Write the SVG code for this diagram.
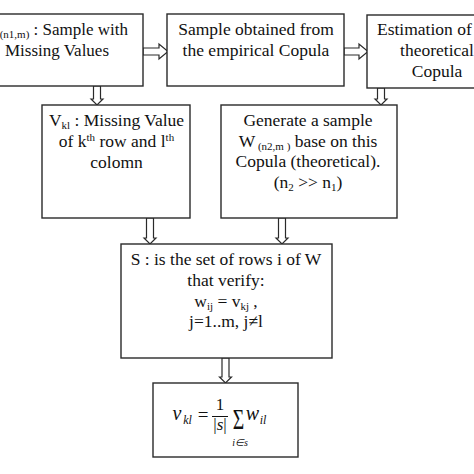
<svg xmlns="http://www.w3.org/2000/svg" width="474" height="474" viewBox="0 0 474 474">
<style>
.box{fill:#fff;stroke:#2a2a2a;stroke-width:1.4}
.arr{fill:#fff;stroke:#2a2a2a;stroke-width:1.2;stroke-linejoin:miter}
text{font-family:"Liberation Serif","Times New Roman",serif;font-size:17.5px;fill:#111;text-anchor:middle}
.sm{font-size:11px}
.m{font-style:italic}
</style>
<rect width="474" height="474" fill="#fff"/>
<g id="connectors">
<polygon class="arr" points="143,48 159,48 159,44 168,51.5 159,59 159,55 143,55"/>
<polygon class="arr" points="344,48 359,48 359,44 368,51.5 359,59 359,55 344,55"/>
<polygon class="arr" points="93.5,86 100.5,86 100.5,99 103,99 97,105 91,99 93.5,99"/>
<polygon class="arr" points="377.5,88 384.5,88 384.5,99 387,99 381,105 375,99 377.5,99"/>
<polygon class="arr" points="146.5,218 153.5,218 153.5,238 156,238 150,244 144,238 146.5,238"/>
<polygon class="arr" points="278.5,218 285.5,218 285.5,238 288,238 282,244 276,238 278.5,238"/>
<polygon class="arr" points="222,358 229,358 229,377 231.5,377 225.5,383 219.5,377 222,377"/>
</g>
<g id="node-sample-missing">
<rect class="box" x="-30" y="14" width="173" height="72"/>
<text x="128" y="35" style="text-anchor:end;font-size:17px"><tspan class="sm" dy="3">(n1,m)</tspan><tspan dy="-3"> : Sample with</tspan></text>
<text x="57" y="56" style="font-size:17px">Missing Values</text>
</g>
<g id="node-empirical">
<rect class="box" x="167" y="14" width="177" height="72"/>
<text x="256" y="35">Sample obtained from</text>
<text x="256" y="56">the empirical Copula</text>
</g>
<g id="node-estimation">
<rect class="box" x="367" y="15" width="140" height="73"/>
<text x="377" y="35" style="text-anchor:start">Estimation of</text>
<text x="437" y="56">theoretical</text>
<text x="437" y="77">Copula</text>
</g>
<g id="node-vkl">
<rect class="box" x="42" y="105" width="148" height="113"/>
<text x="116.5" y="126">V<tspan class="sm" dy="3">kl</tspan><tspan dy="-3"> : Missing Value</tspan></text>
<text x="116.5" y="147">of k<tspan class="sm" dy="-6">th</tspan><tspan dy="6"> row and l</tspan><tspan class="sm" dy="-6">th</tspan></text>
<text x="116.5" y="168">colomn</text>
</g>
<g id="node-generate">
<rect class="box" x="221" y="105" width="176" height="113"/>
<text x="308" y="126">Generate a sample</text>
<text x="308" y="147">W<tspan class="sm" dy="3"> (n2,m )</tspan><tspan dy="-3"> base on this</tspan></text>
<text x="308" y="167">Copula  (theoretical).</text>
<text x="308" y="188">(n<tspan class="sm" dy="3">2</tspan><tspan dy="-3"> &gt;&gt; n</tspan><tspan class="sm" dy="3">1</tspan><tspan dy="-3">)</tspan></text>
</g>
<g id="node-set">
<rect class="box" x="121" y="244" width="211" height="114"/>
<text x="226" y="265">S : is the set of rows i of  W</text>
<text x="226" y="286">that verify:</text>
<text x="226" y="307">w<tspan class="sm" dy="3">ij</tspan><tspan dy="-3"> = v</tspan><tspan class="sm" dy="3">kj</tspan><tspan dy="-3"> ,</tspan></text>
<text x="226" y="327">j=1..m,  j≠l</text>
</g>
<g id="node-formula">
<rect class="box" x="153" y="383" width="145" height="74"/>
<text x="177" y="420" class="m" style="font-size:20px">v</text>
<text x="187.5" y="424" class="m" style="font-size:12px">kl</text>
<text x="203" y="421" style="font-size:19px">=</text>
<text x="220" y="410" style="font-size:17px">1</text>
<line x1="212" y1="416.5" x2="228" y2="416.5" stroke="#111" stroke-width="1"/>
<text x="220" y="430" style="font-size:17px">|<tspan class="m">s</tspan>|</text>
<text transform="translate(238.5,429) scale(0.68,1)" style="font-size:29px">Σ</text>
<text x="240" y="446" class="m" style="font-size:10px">i∈s</text>
<text x="252.5" y="420" class="m" style="font-size:20px">w</text>
<text x="263" y="424" class="m" style="font-size:12px">il</text>
</g>
</svg>
